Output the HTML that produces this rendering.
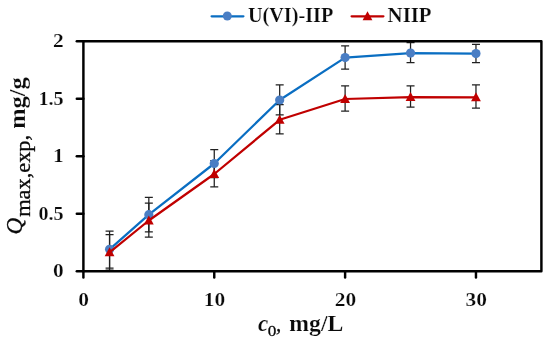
<!DOCTYPE html><html><head><meta charset="utf-8"><title>chart</title><style>html,body{margin:0;padding:0;background:#fff}svg{display:block}text{font-family:"Liberation Serif","DejaVu Serif",serif;font-weight:bold;fill:#0a0a0a}.r{font-weight:normal;stroke:#0a0a0a;stroke-width:.3px}.b{stroke:#fff;stroke-width:.2px}.i{font-style:italic}</style></head><body>
<svg width="550" height="342" viewBox="0 0 550 342">
<rect width="550" height="342" fill="#fff"/>
<path d="M109.57 231.20V268.10M105.57 231.20H113.57M105.57 268.10H113.57" stroke="#202020" stroke-width="1.25" fill="none"/>
<path d="M148.83 197.30V231.90M144.83 197.30H152.83M144.83 231.90H152.83" stroke="#202020" stroke-width="1.25" fill="none"/>
<path d="M214.26 149.50V177.50M210.26 149.50H218.26M210.26 177.50H218.26" stroke="#202020" stroke-width="1.25" fill="none"/>
<path d="M279.69 84.90V114.80M275.69 84.90H283.69M275.69 114.80H283.69" stroke="#202020" stroke-width="1.25" fill="none"/>
<path d="M345.11 45.90V69.10M341.11 45.90H349.11M341.11 69.10H349.11" stroke="#202020" stroke-width="1.25" fill="none"/>
<path d="M410.54 42.50V62.70M406.54 42.50H414.54M406.54 62.70H414.54" stroke="#202020" stroke-width="1.25" fill="none"/>
<path d="M475.97 44.40V62.70M471.97 44.40H479.97M471.97 62.70H479.97" stroke="#202020" stroke-width="1.25" fill="none"/>
<path d="M109.57 234.60V270.00M105.57 234.60H113.57M105.57 270.00H113.57" stroke="#202020" stroke-width="1.25" fill="none"/>
<path d="M148.83 203.00V237.10M144.83 203.00H152.83M144.83 237.10H152.83" stroke="#202020" stroke-width="1.25" fill="none"/>
<path d="M214.26 160.50V186.80M210.26 160.50H218.26M210.26 186.80H218.26" stroke="#202020" stroke-width="1.25" fill="none"/>
<path d="M279.69 104.60V133.80M275.69 104.60H283.69M275.69 133.80H283.69" stroke="#202020" stroke-width="1.25" fill="none"/>
<path d="M345.11 85.90V111.00M341.11 85.90H349.11M341.11 111.00H349.11" stroke="#202020" stroke-width="1.25" fill="none"/>
<path d="M410.54 85.90V107.00M406.54 85.90H414.54M406.54 107.00H414.54" stroke="#202020" stroke-width="1.25" fill="none"/>
<path d="M475.97 84.80V108.20M471.97 84.80H479.97M471.97 108.20H479.97" stroke="#202020" stroke-width="1.25" fill="none"/>
<rect x="83.4" y="41.15" width="458.00" height="230.05" fill="none" stroke="#000" stroke-width="2.45" stroke-linejoin="round" stroke-linecap="round"/>
<line x1="76.80" y1="271.20" x2="83.4" y2="271.20" stroke="#000" stroke-width="2.45" stroke-linejoin="round" stroke-linecap="round"/>
<line x1="76.80" y1="213.69" x2="83.4" y2="213.69" stroke="#000" stroke-width="2.45" stroke-linejoin="round" stroke-linecap="round"/>
<line x1="76.80" y1="156.18" x2="83.4" y2="156.18" stroke="#000" stroke-width="2.45" stroke-linejoin="round" stroke-linecap="round"/>
<line x1="76.80" y1="98.66" x2="83.4" y2="98.66" stroke="#000" stroke-width="2.45" stroke-linejoin="round" stroke-linecap="round"/>
<line x1="76.80" y1="41.15" x2="83.4" y2="41.15" stroke="#000" stroke-width="2.45" stroke-linejoin="round" stroke-linecap="round"/>
<line x1="83.40" y1="271.2" x2="83.40" y2="277.40" stroke="#000" stroke-width="2.45" stroke-linejoin="round" stroke-linecap="round"/>
<line x1="214.26" y1="271.2" x2="214.26" y2="277.40" stroke="#000" stroke-width="2.45" stroke-linejoin="round" stroke-linecap="round"/>
<line x1="345.11" y1="271.2" x2="345.11" y2="277.40" stroke="#000" stroke-width="2.45" stroke-linejoin="round" stroke-linecap="round"/>
<line x1="475.97" y1="271.2" x2="475.97" y2="277.40" stroke="#000" stroke-width="2.45" stroke-linejoin="round" stroke-linecap="round"/>
<polyline fill="none" stroke="#0a6ec2" stroke-width="2.25" stroke-linejoin="round" stroke-linecap="round" points="109.57,249.30 148.83,214.70 214.26,163.50 279.69,100.00 345.11,57.60 410.54,53.10 475.97,53.60"/>
<circle cx="109.57" cy="249.30" r="4.6" fill="#4a7ec4"/>
<circle cx="148.83" cy="214.70" r="4.6" fill="#4a7ec4"/>
<circle cx="214.26" cy="163.50" r="4.6" fill="#4a7ec4"/>
<circle cx="279.69" cy="100.00" r="4.6" fill="#4a7ec4"/>
<circle cx="345.11" cy="57.60" r="4.6" fill="#4a7ec4"/>
<circle cx="410.54" cy="53.10" r="4.6" fill="#4a7ec4"/>
<circle cx="475.97" cy="53.60" r="4.6" fill="#4a7ec4"/>
<polyline fill="none" stroke="#c00000" stroke-width="2.25" stroke-linejoin="round" stroke-linecap="round" points="109.57,252.30 148.83,220.50 214.26,174.00 279.69,119.80 345.11,99.00 410.54,97.05 475.97,97.30"/>
<path d="M109.57 247.30L114.47 256.30H104.67Z" fill="#c00000"/>
<path d="M148.83 215.50L153.73 224.50H143.93Z" fill="#c00000"/>
<path d="M214.26 169.00L219.16 178.00H209.36Z" fill="#c00000"/>
<path d="M279.69 114.80L284.59 123.80H274.79Z" fill="#c00000"/>
<path d="M345.11 94.00L350.01 103.00H340.21Z" fill="#c00000"/>
<path d="M410.54 92.05L415.44 101.05H405.64Z" fill="#c00000"/>
<path d="M475.97 92.30L480.87 101.30H471.07Z" fill="#c00000"/>
<text class="b" x="52.90" y="277.30" font-size="19.5" textLength="10.70" lengthAdjust="spacingAndGlyphs">0</text>
<text class="b" x="38.40" y="219.79" font-size="19.5" textLength="25.20" lengthAdjust="spacingAndGlyphs">0.5</text>
<text class="b" x="52.90" y="162.28" font-size="19.5" textLength="10.70" lengthAdjust="spacingAndGlyphs">1</text>
<text class="b" x="38.40" y="104.76" font-size="19.5" textLength="25.20" lengthAdjust="spacingAndGlyphs">1.5</text>
<text class="b" x="52.90" y="47.25" font-size="19.5" textLength="10.70" lengthAdjust="spacingAndGlyphs">2</text>
<text class="b" x="78.35" y="305.9" font-size="19" textLength="10.70" lengthAdjust="spacingAndGlyphs">0</text>
<text class="b" x="203.86" y="305.9" font-size="19" textLength="21.40" lengthAdjust="spacingAndGlyphs">10</text>
<text class="b" x="334.71" y="305.9" font-size="19" textLength="21.40" lengthAdjust="spacingAndGlyphs">20</text>
<text class="b" x="465.57" y="305.9" font-size="19" textLength="21.40" lengthAdjust="spacingAndGlyphs">30</text>
<text class="i b" x="258" y="330.8" font-size="23">c</text>
<text class="r" x="267.8" y="336.2" font-size="15.5" textLength="8.6" lengthAdjust="spacingAndGlyphs">0</text>
<text class="r i" x="276" y="330.8" font-size="21">,</text>
<text class="b" x="289.3" y="331" font-size="23" textLength="54" lengthAdjust="spacingAndGlyphs">mg/L</text>
<text class="r i" transform="translate(22,234.5) rotate(-90)" font-size="23">Q</text>
<text class="r" transform="translate(29.5,216.8) rotate(-90)" font-size="20" textLength="76.3" lengthAdjust="spacingAndGlyphs">max,exp</text>
<text class="r i" transform="translate(27.5,140.5) rotate(-90)" font-size="23">,</text>
<text class="b" transform="translate(25,128.8) rotate(-90)" font-size="23" textLength="51.6" lengthAdjust="spacingAndGlyphs">mg/g</text>
<line x1="211.6" y1="16.3" x2="243.4" y2="16.3" stroke="#0a6ec2" stroke-width="2.3" stroke-linecap="round"/><circle cx="227.3" cy="16" r="4.5" fill="#4a7ec4"/>
<text class="b" x="247.9" y="21.9" font-size="20.5" textLength="85.4" lengthAdjust="spacingAndGlyphs">U(VI)-IIP</text>
<line x1="351.6" y1="16.3" x2="383.4" y2="16.3" stroke="#c00000" stroke-width="2.3" stroke-linecap="round"/><path d="M367.50 11.30L372.40 20.30H362.60Z" fill="#c00000"/>
<text class="b" x="387.6" y="22.1" font-size="20.5" textLength="44" lengthAdjust="spacingAndGlyphs">NIIP</text>
</svg></body></html>
